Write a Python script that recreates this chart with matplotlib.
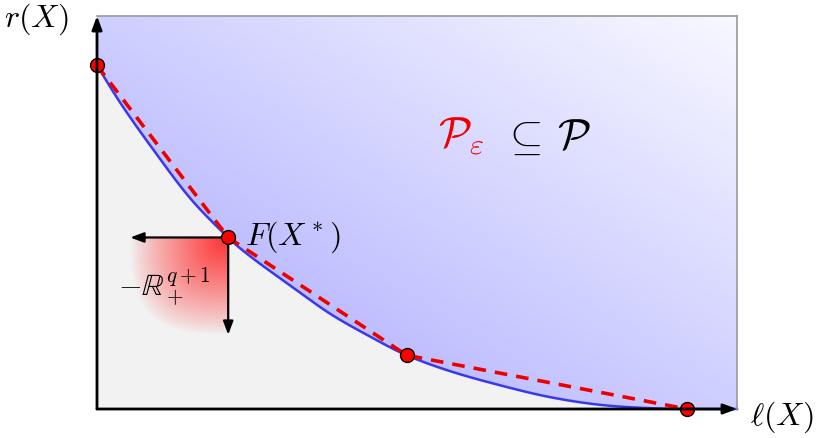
import numpy as np
import matplotlib
matplotlib.use("Agg")
import matplotlib.pyplot as plt
from matplotlib.path import Path
from matplotlib.patches import PathPatch

plt.rcParams['mathtext.fontset'] = 'cm'

# Pareto front, x in [0, 10], y in [0, 6.14]
front_x = [0.0, 0.36, 0.83, 1.45, 2.05, 2.44, 3.02, 3.64, 4.27, 4.84,
           5.52, 6.30, 7.08, 7.86, 8.64, 9.27, 10.0]
front_y = [5.37, 4.79, 4.12, 3.30, 2.68, 2.35, 1.93, 1.49, 1.13, 0.84,
           0.59, 0.37, 0.185, 0.065, 0.012, 0.0, 0.0]

# epsilon-approximation points
approx_x = [0.0, 2.05, 4.84, 9.22]
approx_y = [5.37, 2.68, 0.84, 0.0]

X_MAX = 10.0
Y_MAX = 393 / 64


def catmull_rom(xs, ys, n=30):
    p = np.column_stack([xs, ys])
    p = np.vstack([p[0], p, p[-1]])
    out = []
    for i in range(1, len(p) - 2):
        p0, p1, p2, p3 = p[i - 1], p[i], p[i + 1], p[i + 2]
        t = np.linspace(0, 1, n)[:, None]
        seg = 0.5 * (2 * p1 + (-p0 + p2) * t + (2 * p0 - 5 * p1 + 4 * p2 - p3) * t**2
                     + (-p0 + 3 * p1 - 3 * p2 + p3) * t**3)
        out.append(seg)
    out = np.vstack(out)
    return out[:, 0], np.clip(out[:, 1], 0, None)


cx, cy = catmull_rom(front_x, front_y)

fig = plt.figure(figsize=(8.23, 4.39), dpi=100)
ax = fig.add_axes([97 / 823, 29 / 439, 640 / 823, 393 / 439])
ax.set_xlim(0, X_MAX)
ax.set_ylim(0, Y_MAX)
ax.set_xticks([])
ax.set_yticks([])

# gray region under the front
ax.fill_between(cx, 0, cy, color='#f2f2f2', zorder=0)

# blue gradient region above the front
gx, gy = np.meshgrid(np.linspace(0, 1, 300), np.linspace(0, 1, 200))
t = ((1 - gx) + (1 - gy)) / 2
c_light = np.array([248, 248, 255]) / 255
c_dark = np.array([165, 165, 255]) / 255
img = c_light * (1 - t[..., None]) + c_dark * t[..., None]
im = ax.imshow(img, extent=[0, X_MAX, 0, Y_MAX], origin='lower', aspect='auto', zorder=0)
verts = [(0, Y_MAX)] + list(zip(cx, cy)) + [(X_MAX, 0), (X_MAX, Y_MAX), (0, Y_MAX)]
clip = PathPatch(Path(verts), transform=ax.transData, facecolor='none', edgecolor='none')
ax.add_patch(clip)
im.set_clip_path(clip)

# red shaded cone -R_+^{q+1}
fx, fy = approx_x[1], approx_y[1]
w, h = 1.53, 1.52
rx, ry = np.meshgrid(np.linspace(fx - w, fx, 150), np.linspace(fy - h, fy, 150))
d = (((fx - rx) / w) ** 3 + ((fy - ry) / h) ** 3) ** (1 / 3)
alpha = np.clip(1 - d, 0, 1) ** 0.85 * 0.95
red = np.zeros(rx.shape + (4,))
red[..., 0] = 1.0
red[..., 1] = 0.15
red[..., 2] = 0.15
red[..., 3] = alpha
ax.imshow(red, extent=[fx - w, fx, fy - h, fy], origin='lower', aspect='auto', zorder=1)

# front curve and approximation
ax.plot(cx, cy, color='#3838f0', lw=1.8, zorder=2, clip_on=False)
ax.plot(approx_x, approx_y, color='#ee0000', lw=2.6, ls=(0, (3.5, 2.5)), zorder=3, clip_on=False)

# arrows from F(X*)
arrow = dict(arrowstyle='-|>,head_length=0.8,head_width=0.3', color='black', lw=1.6, shrinkA=0, shrinkB=0)
ax.annotate('', xy=(fx - w, fy), xytext=(fx, fy), arrowprops=arrow, zorder=4)
ax.annotate('', xy=(fx, fy - h), xytext=(fx, fy), arrowprops=arrow, zorder=4)

ax.plot(approx_x, approx_y, 'o', color='#ff0000', mec='black', mew=1.0, ms=10, zorder=5, clip_on=False)

# axes frame
for side in ['top', 'right']:
    ax.spines[side].set_color('#999999')
    ax.spines[side].set_linewidth(1.2)
for side in ['left', 'bottom']:
    ax.spines[side].set_visible(False)
axis_arrow = dict(arrowstyle='-|>,head_length=0.8,head_width=0.3', color='black', lw=2.0, shrinkA=0, shrinkB=0)
ax.annotate('', xy=(X_MAX, 0), xytext=(0, 0), arrowprops=axis_arrow, annotation_clip=False, zorder=6)
ax.annotate('', xy=(0, Y_MAX), xytext=(0, 0), arrowprops=axis_arrow, annotation_clip=False, zorder=6)

# labels
ax.text(-0.95, 6.11, r'$r(X)$', fontsize=23, ha='center', va='center', clip_on=False)
ax.text(10.70, -0.12, r'$\ell(X)$', fontsize=23, ha='center', va='center', clip_on=False)
ax.text(fx + 0.27, fy + 0.02, r'$F(X^*)$', fontsize=23, ha='left', va='center', zorder=6)
ax.text(1.05, 1.92, r'$-\mathbb{R}_+^{q+1}$', fontsize=22, ha='center', va='center', zorder=6)
ax.text(5.69, 4.27, r'$\mathcal{P}_\varepsilon$', fontsize=31, color='#ee0000', ha='center', va='center')
ax.text(6.64, 4.25, r'$\subseteq$', fontsize=31, color='black', ha='center', va='center')
ax.text(7.45, 4.27, r'$\mathcal{P}$', fontsize=31, color='black', ha='center', va='center')

fig.savefig('out.png', dpi=100)
